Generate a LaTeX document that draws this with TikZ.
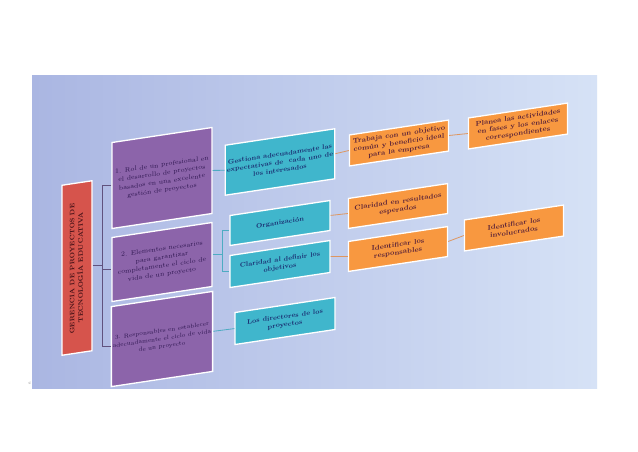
\documentclass[tikz,border=0pt]{standalone}
\usepackage{tikz}
\usepackage{xcolor}
\usetikzlibrary{positioning}

\definecolor{slideA}{RGB}{170,182,226}
\definecolor{slideB}{RGB}{214,226,246}
\definecolor{rootred}{RGB}{214,84,76}
\definecolor{rootink}{RGB}{70,18,24}
\definecolor{violetbox}{RGB}{140,100,170}
\definecolor{violetink}{RGB}{46,22,80}
\definecolor{tealbox}{RGB}{64,182,204}
\definecolor{tealink}{RGB}{26,44,112}
\definecolor{orangebox}{RGB}{248,152,64}
\definecolor{orangeink}{RGB}{84,30,56}
\definecolor{violetline}{RGB}{96,82,126}
\definecolor{tealline}{RGB}{78,172,194}
\definecolor{orangeline}{RGB}{222,150,96}

\begin{document}
\begin{tikzpicture}[x=1pt,y=-1pt]
  \tikzstyle{box}=[draw=white,line width=1.3pt,yslant=0.15,align=center,inner sep=1.5pt]
  \tikzstyle{rootbox}=[box,fill=rootred,text=rootink,minimum width=30pt,minimum height=170pt,font=\bfseries\fontsize{6.5}{8}\selectfont]
  \tikzstyle{level1}=[box,fill=violetbox,text=violetink,minimum width=100pt,font=\fontsize{6.4}{8.5}\selectfont]
  \tikzstyle{level2}=[box,fill=tealbox,text=tealink,minimum width=100pt,font=\bfseries\fontsize{6.5}{8}\selectfont]
  \tikzstyle{level3}=[box,fill=orangebox,text=orangeink,minimum width=99pt,font=\bfseries\fontsize{6.8}{8}\selectfont]
  \tikzstyle{vline}=[draw=violetline,line width=0.8pt]
  \tikzstyle{tline}=[draw=tealline,line width=0.8pt]
  \tikzstyle{oline}=[draw=orangeline,line width=0.8pt]

  \useasboundingbox (0,0) rectangle (638,451);
  \fill[white] (0,0) rectangle (638,451);
  \shade[left color=slideA,right color=slideB] (32,75) rectangle (597,388);
  \node[text=gray,font=\tiny,inner sep=0pt] (mark) at (30,383) {c};

  % root and first level
  \node[rootbox] (root) at (77,268) {\rotatebox{90}{\begin{tabular}{@{}c@{}}GERENCIA DE PROYECTOS DE\\TECNOLOGÍA EDUCATIVA\end{tabular}}};
  \node[level1,minimum height=86pt] (p_1) at (162,178) {1. Rol de un profesional en\\el desarrollo de proyectos\\basados en una excelente\\gestión de proyectos};
  \node[level1,minimum height=64pt] (p_2) at (162,262) {2. Elementos necesarios\\para garantizar\\completamente el ciclo de\\vida de un proyecto};
  \node[level1,minimum height=80pt,font=\fontsize{5.9}{8}\selectfont] (p_3) at (162,339) {3. Responsables en establecer\\adecuadamente el ciclo de vida\\de un proyecto};

  % second level
  \node[level2,minimum height=50pt] (c_1) at (280,162) {Gestiona adecuadamente las\\expectativas de\ \ cada uno de\\los interesados};
  \node[level2,minimum height=30pt] (c_2) at (280,223) {Organización};
  \node[level2,minimum height=32pt] (c_3) at (280,264) {Claridad al definir los\\objetivos};
  \node[level2,minimum height=32pt] (c_4) at (285,321) {Los directores de los\\proyectos};

  % third level
  \node[level3,minimum height=31pt] (o_1) at (399,143) {Trabaja con un objetivo\\común y beneficio ideal\\para la empresa};
  \node[level3,minimum height=31pt] (o_2) at (518,126) {Planea las actividades\\en fases y los enlaces\\correspondientes};
  \node[level3,minimum height=30pt] (o_3) at (398,206) {Claridad en resultados\\esperados};
  \node[level3,minimum height=30pt] (o_4) at (398,249) {Identificar los\\responsables};
  \node[level3,minimum height=31pt] (o_5) at (514,228) {Identificar los\\involucrados};

  \coordinate (rj) at (102,0);
  \coordinate (cj) at (222,0);

  \path[vline] (root.east) -- (root.east -| rj);
  \path[vline] (p_1.west) -| (rj |- p_3.west) -- (p_3.west);
  \path[vline] (rj |- p_2.west) -- (p_2.west);

  \path[tline] (p_1.east) -- (c_1.west);
  \path[tline] (p_2.east) -- (p_2.east -| cj);
  \path[tline] (c_2.west) -| (cj |- c_3.west) -- (c_3.west);
  \path[tline] (p_3.east) -- (c_4.west);

  \path[oline]
  (c_1.east) edge (o_1.west)
  (o_1.east) edge (o_2.west)
  (c_2.east) edge (o_3.west)
  (c_3.east) edge (o_4.west)
  (o_4.east) edge (o_5.west)
  ;
\end{tikzpicture}
\end{document}
